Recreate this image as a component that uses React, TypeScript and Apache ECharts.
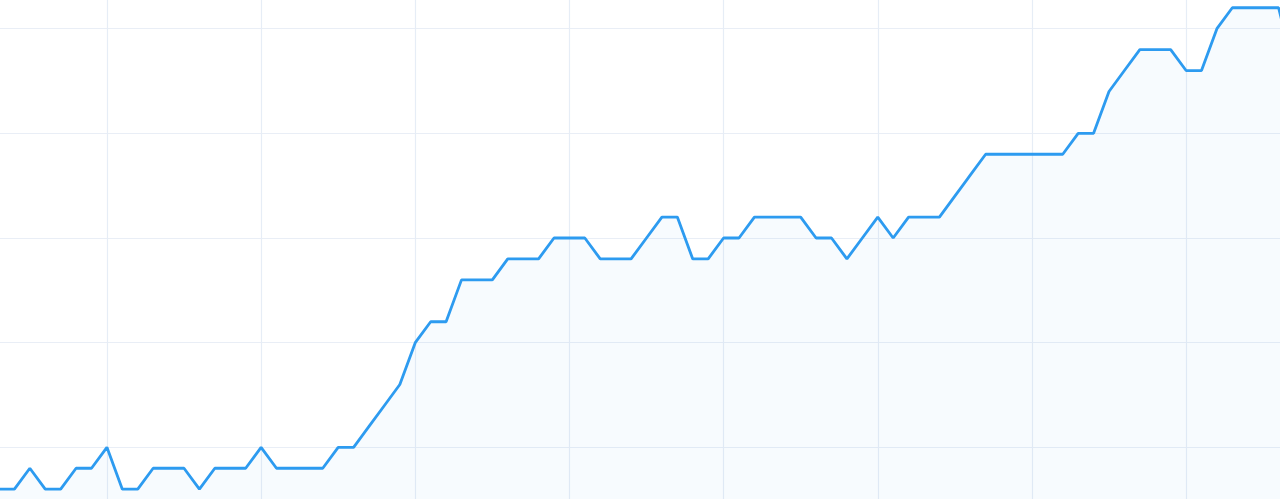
import { useEffect, useRef } from 'react';
import * as echarts from 'echarts';

// values, one per step
const values = [
  8, 8, 9, 8, 8, 9, 9, 10, 8, 8,
  9, 9, 9, 8, 9, 9, 9, 10, 9, 9,
  9, 9, 10, 10, 11, 12, 13, 15, 16, 16,
  18, 18, 18, 19, 19, 19, 20, 20, 20, 19,
  19, 19, 20, 21, 21, 19, 19, 20, 20, 21,
  21, 21, 21, 20, 20, 19, 20, 21, 20, 21,
  21, 21, 22, 23, 24, 24, 24, 24, 24, 24,
  25, 25, 27, 28, 29, 29, 29, 28, 28, 30,
  31, 31, 31, 31, 28,
];
const categories = values.map((_, i) => `D${i + 1}`);
const yMin = 5;
const yMax = 35;
const yStep = 5;

export default function App() {
  const chartRef = useRef<HTMLDivElement>(null);

  useEffect(() => {
    if (!chartRef.current) return;
    const chart = echarts.init(chartRef.current, undefined, { renderer: 'svg' });

    const option: echarts.EChartsOption = {
      animation: false,
      grid: { left: 0, right: 0, top: 0, bottom: 0 },
      xAxis: {
        type: 'category',
        data: categories,
        boundaryGap: false,
        axisLine: { show: false },
        axisTick: { show: false },
        axisLabel: { show: false },
        splitLine: {
          show: true,
          interval: (index: number) => index % 10 === 7,
          lineStyle: { color: '#e6edf6', width: 1.2 },
        },
      },
      yAxis: {
        type: 'value',
        min: yMin,
        max: yMax,
        interval: yStep,
        axisLine: { show: false },
        axisTick: { show: false },
        axisLabel: { show: false },
        splitLine: { lineStyle: { color: '#e9eef6', width: 1.2 } },
      },
      series: [
        {
          type: 'line',
          data: values,
          symbol: 'none',
          lineStyle: { color: '#2d9bf0', width: 2.8 },
          itemStyle: { color: '#2d9bf0' },
          areaStyle: { color: 'rgba(45, 155, 240, 0.055)' },
        },
      ],
    };

    chart.setOption(option);
    return () => chart.dispose();
  }, []);

  // the plot runs past the window's edges, so the box is larger than the frame
  return (
    <div
      ref={chartRef}
      style={{
        position: 'fixed',
        left: '-0.6px',
        top: '-76.3px',
        width: '1295.2px',
        height: '627.6px',
        background: '#fff',
      }}
    />
  );
}
